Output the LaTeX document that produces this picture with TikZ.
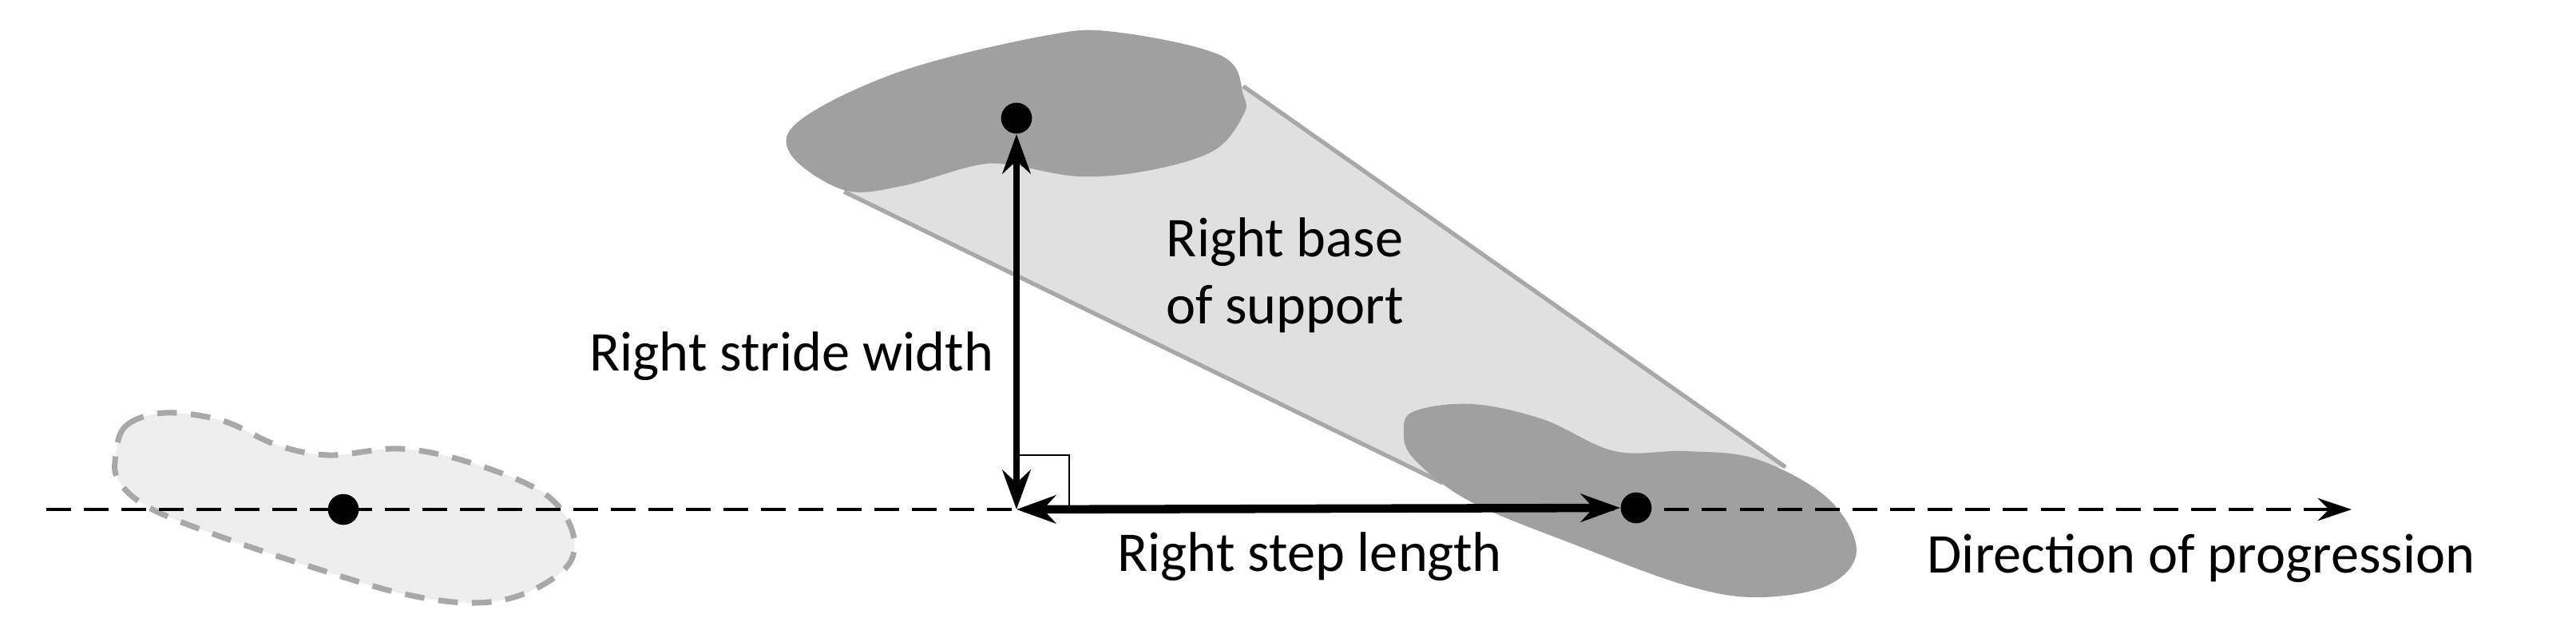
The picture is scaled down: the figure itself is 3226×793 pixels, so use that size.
\documentclass[tikz,border=0pt]{standalone}
\usepackage{fontspec}
\setmainfont{Carlito}
\usetikzlibrary{arrows.meta}
\definecolor{footdark}{HTML}{A0A0A0}
\definecolor{band}{HTML}{E0E0E0}
\definecolor{bandedge}{HTML}{A8A8A8}
\definecolor{ghost}{HTML}{EEEEEE}
\begin{document}
\begin{tikzpicture}[x=0.01cm,y=-0.01cm,
  lbl/.style={font=\fontsize{20}{24}\selectfont, inner sep=0pt},
  dot/.style={circle, fill=black, inner sep=0pt, minimum size=11pt},
  meas/.style={line width=2.4pt, {Stealth[length=14pt,width=10pt]}-{Stealth[length=14pt,width=10pt]}},
  axis/.style={line width=1.4pt, dash pattern=on 8.8pt off 4.6pt, -{Stealth[length=12pt,width=8pt]}}]
\useasboundingbox (0,0) rectangle (3226,793);
% left (ghost) foot
\draw[fill=ghost, draw=bandedge, line width=2pt, dash pattern=on 7pt off 5pt]
  plot[smooth cycle, tension=0.6] coordinates {(145,570) (158,533) (207,517) (279,527) (346,557) (412,570) (502,562) (591,580) (680,617) (716,663) (712,707) (658,743) (591,755) (502,743) (390,710) (279,673) (189,637) (149,603)};
% base of support band
\fill[band] (1057,240) -- (1557,108) -- (2236,585) -- (1807,605) -- cycle;
\draw[bandedge, line width=1.5pt] (1057,240) -- (1807,605);
\draw[bandedge, line width=1.5pt] (1557,108) -- (2236,585);
% top foot
\fill[footdark] plot[smooth cycle, tension=0.6] coordinates {(1057,238) (1129,233) (1218,208) (1263,206) (1352,221) (1441,213) (1521,188) (1557,144) (1557,119) (1530,70) (1396,40) (1307,45) (1129,89) (1004,149) (990,193)};
% bottom foot
\fill[footdark] plot[smooth cycle, tension=0.6] coordinates {(1771,515) (1843,506) (1932,525) (2022,565) (2111,565) (2200,575) (2289,624) (2325,689) (2289,733) (2200,748) (2111,733) (1977,684) (1843,629) (1771,575) (1758,540)};
% nodes
\node[dot] (L) at (430,638) {};
\node[dot] (T) at (1273,148) {};
\node[dot] (R) at (2049,636) {};
\coordinate (C) at (1273,638);
\coordinate (S) at (58,638);
\coordinate (E) at (2945,638);
% progression line
\draw[axis] (S) -- (E);
% right angle
\draw[line width=0.6pt] (1273,570) -- (1339,570) -- (1339,638);
% measurements
\draw[meas] (T.south) -- (C);
\draw[meas, line width=3pt] (C) -- (R.west);
% labels
\node[lbl, anchor=east] (sw) at (1245,446) {Right stride width};
\node[lbl, align=center] (bos) at (1609,345) {Right base\\of support};
\node[lbl] (sl) at (1640,697) {Right step length};
\node[lbl, anchor=west] (dp) at (2413,699) {Direction of progression};
\end{tikzpicture}
\end{document}
